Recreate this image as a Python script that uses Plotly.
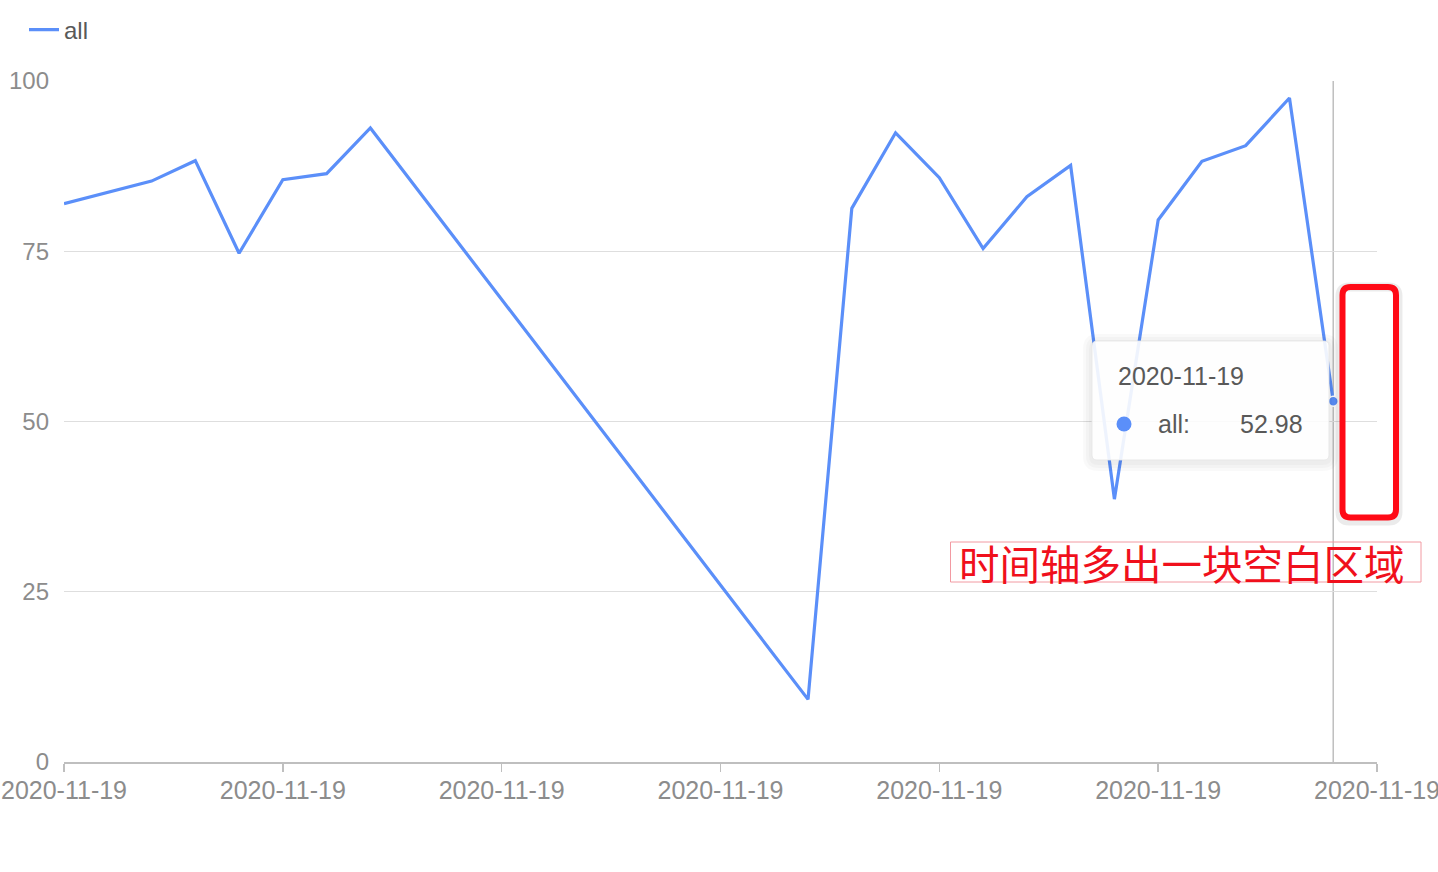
import plotly.graph_objects as go

# ---------------- data ----------------
times = [
    "2020-11-19 00:00", "2020-11-19 00:12", "2020-11-19 00:24", "2020-11-19 00:36",
    "2020-11-19 00:48", "2020-11-19 01:00", "2020-11-19 01:12", "2020-11-19 01:24",
    "2020-11-19 03:24", "2020-11-19 03:36", "2020-11-19 03:48", "2020-11-19 04:00",
    "2020-11-19 04:12", "2020-11-19 04:24", "2020-11-19 04:36", "2020-11-19 04:48",
    "2020-11-19 05:00", "2020-11-19 05:12", "2020-11-19 05:24", "2020-11-19 05:36",
    "2020-11-19 05:48",
]
values_all = [82.0, 83.6, 85.3, 88.3, 74.7, 85.5, 86.4, 93.1,
              9.2, 81.3, 92.4, 85.8, 75.4, 83.0, 87.6, 38.6,
              79.6, 88.2, 90.5, 97.5, 52.98]
series_name = "all"
x_range = ["2020-11-19 00:00", "2020-11-19 06:00"]
y_ticks = [0, 25, 50, 75, 100]
note_text = "时间轴多出一块空白区域"

# ---------------- style ----------------
BLUE = "#5B8FF9"
FONT = "Liberation Sans, Arial, sans-serif"
W, H = 1438, 872
# plot area in screen pixels
PL, PR, PT, PB = 64, 1377, 81, 762


def px(x):
    return (x - PL) / (PR - PL)


def py(y):
    return (PB - y) / (PB - PT)


def rrect(x0, y0, x1, y1, r):
    pts = [
        ("M", (x0 + r, y0)), ("L", (x1 - r, y0)), ("Q", (x1, y0), (x1, y0 + r)),
        ("L", (x1, y1 - r)), ("Q", (x1, y1), (x1 - r, y1)), ("L", (x0 + r, y1)),
        ("Q", (x0, y1), (x0, y1 - r)), ("L", (x0, y0 + r)), ("Q", (x0, y0), (x0 + r, y0)),
    ]
    s = ""
    for p in pts:
        coords = " ".join(f"{px(a):.5f},{py(b):.5f}" for a, b in p[1:])
        s += f"{p[0]} {coords} "
    return s + "Z"


fig = go.Figure()
fig.add_trace(go.Scatter(
    x=times, y=values_all, mode="lines", name=series_name,
    line=dict(color=BLUE, width=3.2), hoverinfo="skip",
))
fig.add_trace(go.Scatter(
    x=[times[-1]], y=[values_all[-1]], mode="markers", showlegend=False,
    marker=dict(color=BLUE, size=10, line=dict(color="white", width=1.5)),
    hoverinfo="skip",
))

shapes = []
# crosshair
shapes.append(dict(type="line", xref="x", yref="paper", x0=times[-1], x1=times[-1],
                   y0=0, y1=1, line=dict(color="#bfbfbf", width=1.5), layer="below"))
# tooltip shadow + box
tx0, ty0, tx1, ty1 = 1092, 341, 1329, 460
for e in (9, 6, 3):
    shapes.append(dict(type="path", xref="paper", yref="paper",
                       path=rrect(tx0 - e, ty0 - e + 2, tx1 + e, ty1 + e + 2, 6 + e),
                       fillcolor="rgba(0,0,0,0.025)", line=dict(width=0)))
shapes.append(dict(type="path", xref="paper", yref="paper",
                   path=rrect(tx0, ty0, tx1, ty1, 5),
                   fillcolor="rgba(255,255,255,0.9)", line=dict(color="rgba(230,230,230,0.8)", width=1)))
# tooltip dot
shapes.append(dict(type="circle", xref="paper", yref="paper",
                   x0=px(1116.5), x1=px(1131.5), y0=py(431.5), y1=py(416.5),
                   fillcolor=BLUE, line=dict(width=0)))
# red highlight box (with faint shadow)
shapes.append(dict(type="path", xref="paper", yref="paper",
                   path=rrect(1340, 287, 1398, 521, 9),
                   fillcolor="rgba(0,0,0,0)", line=dict(color="rgba(0,0,0,0.08)", width=9)))
shapes.append(dict(type="path", xref="paper", yref="paper",
                   path=rrect(1342.5, 287, 1396, 517.5, 8),
                   fillcolor="rgba(0,0,0,0)", line=dict(color="#ff0a16", width=6)))
# red note border
shapes.append(dict(type="rect", xref="paper", yref="paper",
                   x0=px(950.5), x1=px(1421), y0=py(582), y1=py(542),
                   fillcolor="rgba(0,0,0,0)", line=dict(color="#f29aa2", width=1)))

TIP_FONT = dict(family=FONT, size=25, color="#595959")
annotations = [
    dict(xref="paper", yref="paper", x=px(1116), y=py(376), xanchor="left", yanchor="middle",
         text=times[-1][:10], showarrow=False, font=TIP_FONT),
    dict(xref="paper", yref="paper", x=px(1156), y=py(424), xanchor="left", yanchor="middle",
         text=f"{series_name}:", showarrow=False, font=TIP_FONT),
    dict(xref="paper", yref="paper", x=px(1305), y=py(424), xanchor="right", yanchor="middle",
         text=f"{values_all[-1]:.2f}", showarrow=False, font=TIP_FONT),
    dict(xref="paper", yref="paper", x=px(1182), y=py(562), xanchor="center", yanchor="middle",
         text=note_text, showarrow=False,
         font=dict(family="Noto Sans CJK SC", size=40.5, color="#f0101c")),
]

fig.update_layout(
    width=W, height=H,
    margin=dict(l=PL, r=W - PR, t=PT, b=H - PB, autoexpand=False),
    paper_bgcolor="white", plot_bgcolor="white",
    font=dict(family=FONT, size=24, color="#8c8c8c"),
    showlegend=True,
    legend=dict(xref="container", yref="container", x=24 / W, y=1 - 30 / H,
                xanchor="left", yanchor="middle", orientation="h",
                font=dict(family=FONT, size=24, color="#595959"),
                bgcolor="rgba(0,0,0,0)", itemwidth=30),
    xaxis=dict(type="date", range=x_range, tick0=x_range[0], dtick=3600000,
               tickformat="%Y-%m-%d", showgrid=False, zeroline=False,
               showline=True, linecolor="#bfbfbf", linewidth=1.5,
               ticks="outside", ticklen=8, tickcolor="#bfbfbf", tickwidth=1.5,
               ticklabeloverflow="allow", ticklabelstandoff=-3,
               tickfont=dict(family=FONT, size=25, color="#8c8c8c"), automargin=False),
    yaxis=dict(range=[0, 100], tickvals=y_ticks, showgrid=True, gridcolor="#dedede",
               gridwidth=1.2, zeroline=False, showline=False, ticks="",
               ticklabelstandoff=14,
               tickfont=dict(family=FONT, size=24, color="#8c8c8c"), automargin=False),
    shapes=shapes,
    annotations=annotations,
    hovermode=False,
)

fig.write_html(
    "out.html",
    config={"displayModeBar": False, "staticPlot": True},
    post_script="document.body.style.margin='0';document.body.style.overflow='hidden';",
)
